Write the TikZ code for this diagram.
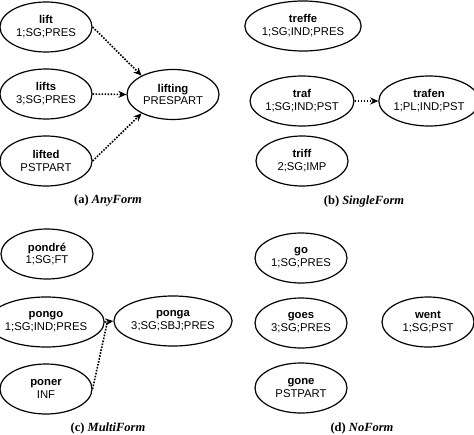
\documentclass[tikz,border=0pt]{standalone}
\usepackage{fontspec}
\setmainfont{Liberation Serif}
\newfontfamily\nodefont{Liberation Sans}
\usetikzlibrary{shapes.geometric,arrows.meta,calc}
\tikzset{
  form/.style={ellipse, draw, line width=1.2pt, minimum width=92pt, minimum height=50pt,
    inner sep=0pt, align=center, font=\nodefont\fontsize{11.3}{12.8}\selectfont},
  link/.style={line width=1.6pt, dash pattern=on 1.6pt off 1.4pt,
    -{Stealth[length=8pt,width=7pt,inset=2.5pt]}},
  plainlink/.style={line width=1.6pt, dash pattern=on 1.6pt off 1.4pt},
  captext/.style={font=\fontsize{12.5}{14}\selectfont\bfseries}
}
\begin{document}
\begin{tikzpicture}[x=1pt,y=-1pt]
\useasboundingbox (0,0) rectangle (474,434);
% (a)
\node[form] (lift) at (46,27) {\textbf{lift}\\1;SG;PRES};
\node[form] (lifts) at (46,94) {\textbf{lifts}\\3;SG;PRES};
\node[form] (lifted) at (46,161) {\textbf{lifted}\\PSTPART};
\node[form] (lifting) at (173,94.5) {\textbf{lifting}\\PRESPART};
\draw[link] (lift.east) -- (lifting.149);
\draw[link] (lifts.east) -- (lifting.west);
\draw[link] (lifted.east) -- (lifting.211);
\node[captext] (capa) at (108,201) {(a) \textit{AnyForm}};
% (b)
\node[form] (treffe) at (303,26) {\textbf{treffe}\\1;SG;IND;PRES};
\node[form] (traf) at (302,101) {\textbf{traf}\\1;SG;IND;PST};
\node[form] (trafen) at (429,101) {\textbf{trafen}\\1;PL;IND;PST};
\node[form] (triff) at (302,161) {\textbf{triff}\\2;SG;IMP};
\draw[link] (traf.east) -- (trafen.west);
\node[captext] (capb) at (364,201) {(b) \textit{SingleForm}};
% (c)
\node[form] (pondre) at (47,254) {\textbf{pondré}\\1;SG;FT};
\node[form] (pongo) at (46,322) {\textbf{pongo}\\1;SG;IND;PRES};
\node[form] (ponga) at (173,321) {\textbf{ponga}\\3;SG;SBJ;PRES};
\node[form] (poner) at (46,389) {\textbf{poner}\\INF};
\draw[link] (pongo.east) -- (ponga.west);
\coordinate (join) at ($(pongo.east)!0.31!(ponga.west)$);
\draw[plainlink] (poner.east) -- (join);
\node[captext] (capc) at (108,428) {(c) \textit{MultiForm}};
% (d)
\node[form] (go) at (301,258) {\textbf{go}\\1;SG;PRES};
\node[form] (goes) at (301,323) {\textbf{goes}\\3;SG;PRES};
\node[form] (went) at (428,322) {\textbf{went}\\1;SG;PST};
\node[form] (gone) at (301,388) {\textbf{gone}\\PSTPART};
\node[captext] (capd) at (362,428) {(d) \textit{NoForm}};
\end{tikzpicture}
\end{document}
